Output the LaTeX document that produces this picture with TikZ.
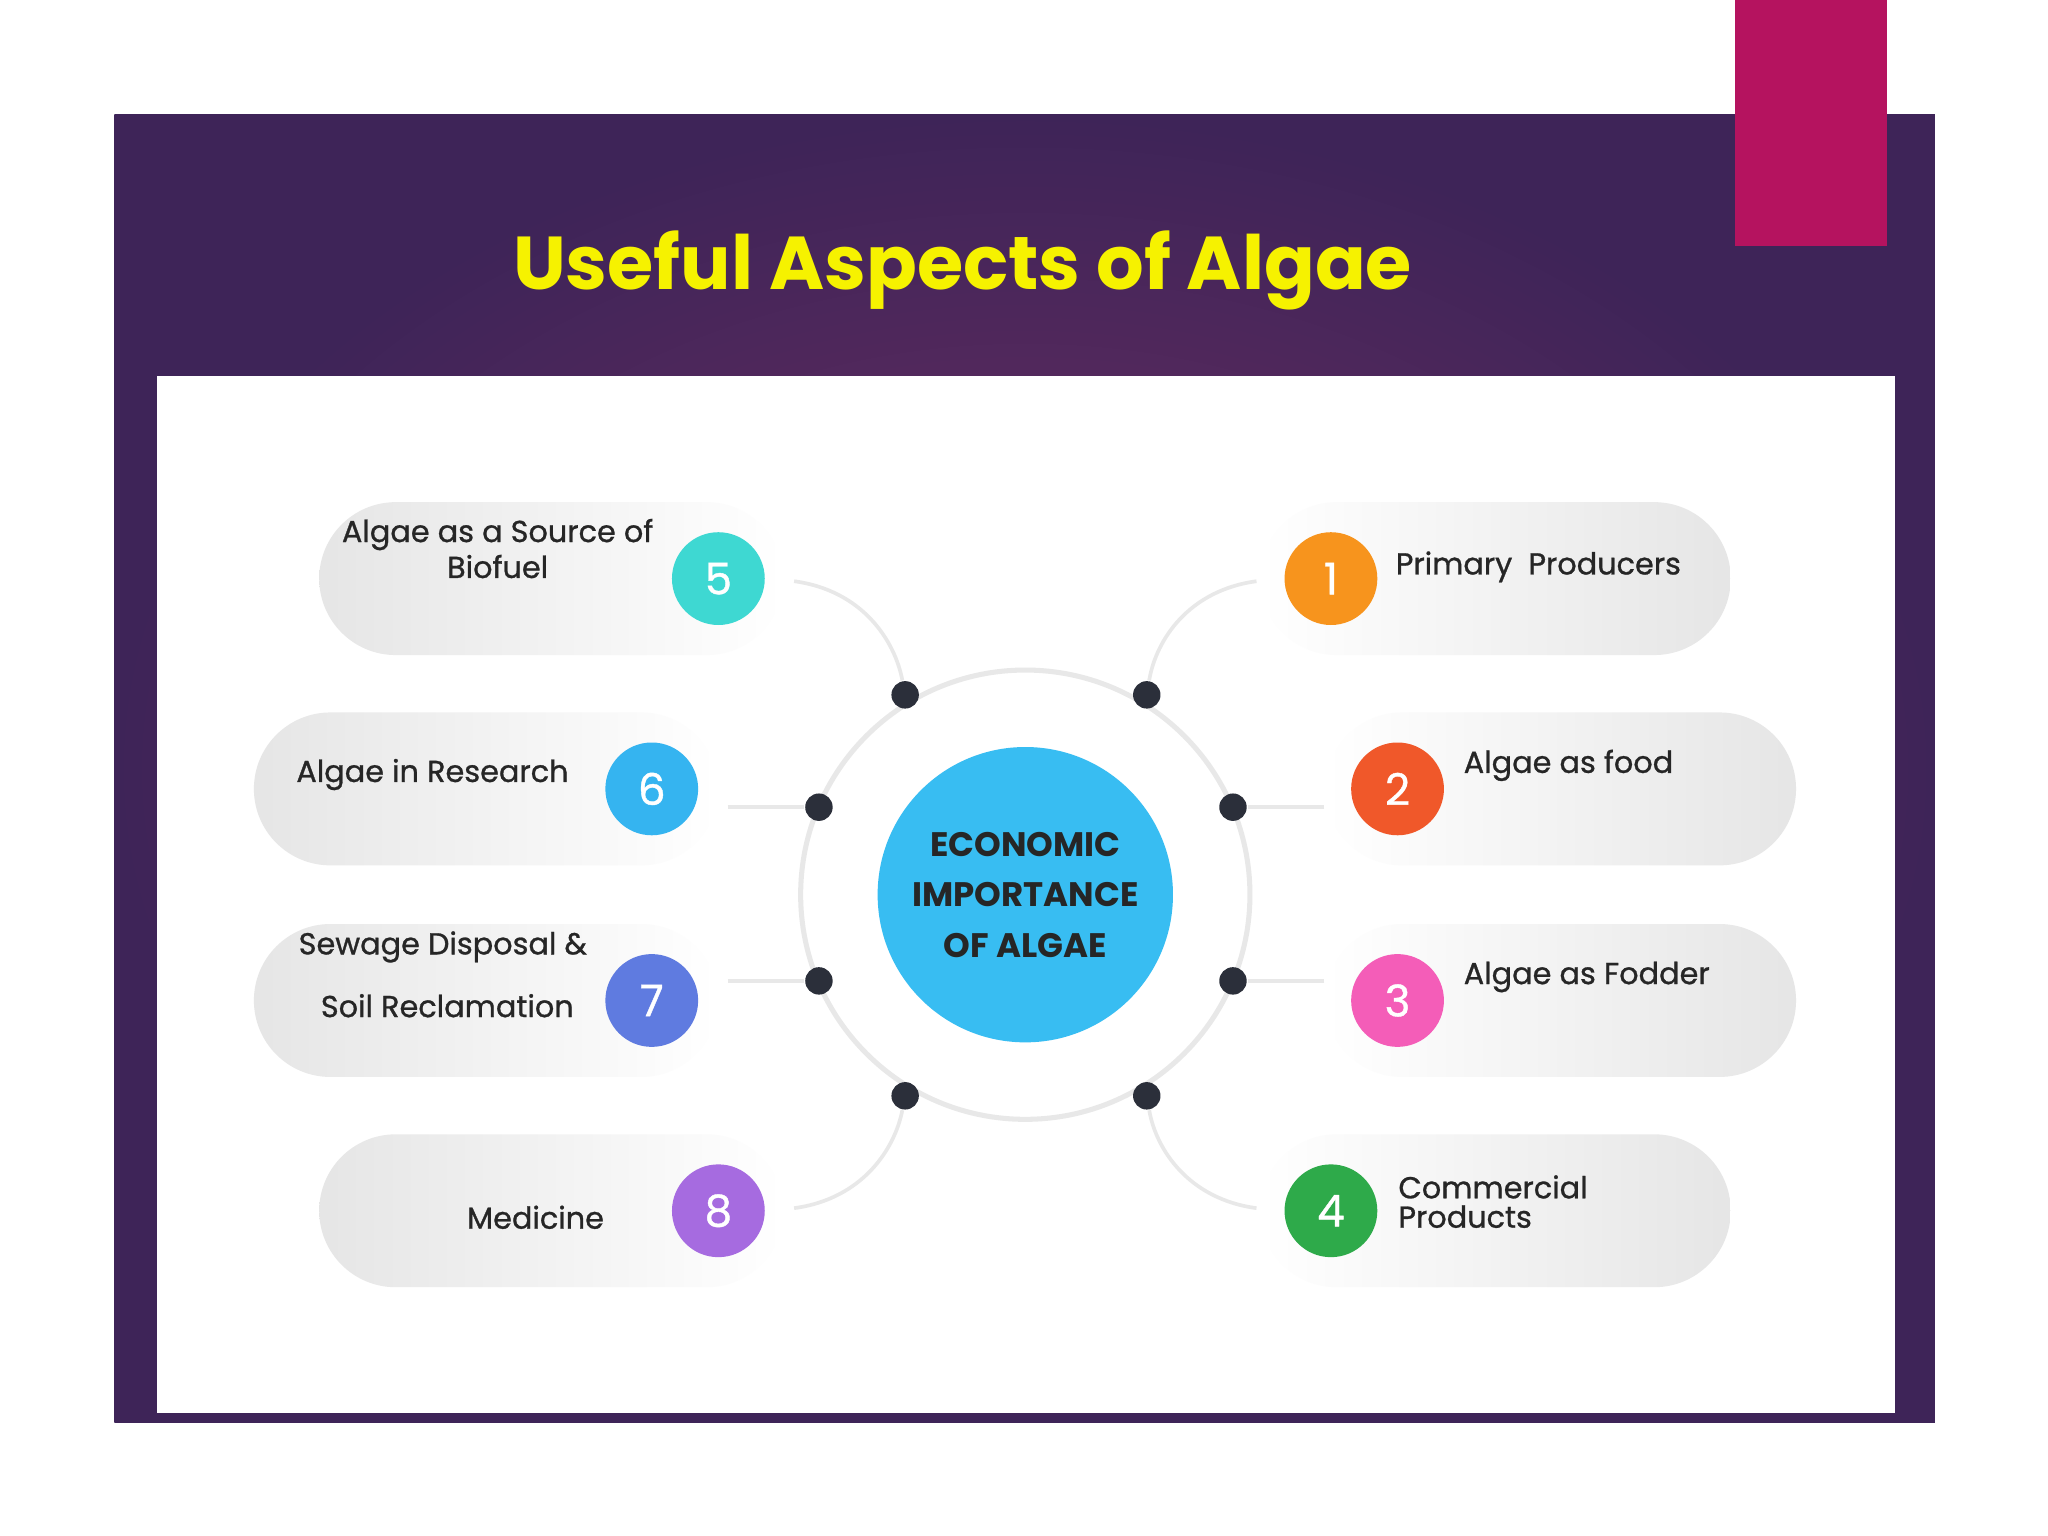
\documentclass[tikz,border=0pt]{standalone}
\usepackage{fontspec}
\setmainfont{Poppins}
\newfontfamily\medfont[FakeBold=0.9]{Poppins}
\definecolor{tyel}{HTML}{F6F200}
\definecolor{mag}{HTML}{B5135F}
\definecolor{dotc}{HTML}{2B2F3A}
\definecolor{ringc}{HTML}{E8E8E8}
\definecolor{c1}{HTML}{F7941D}\definecolor{c2}{HTML}{F0582A}
\definecolor{c3}{HTML}{F45DB8}\definecolor{c4}{HTML}{2EAA4A}
\definecolor{c5}{HTML}{3ED8D2}\definecolor{c6}{HTML}{35B4F0}
\definecolor{c7}{HTML}{5F7BE0}\definecolor{c8}{HTML}{A66BE0}
\definecolor{cen}{HTML}{38BDF2}
\begin{document}
\begin{tikzpicture}[x=0.01cm,y=-0.01cm,
 lpill/.style={rectangle,rounded corners=5.85mm,minimum width=35.5mm,minimum height=11.7mm,left color=black!10,right color=white,draw=none},
 rpill/.style={rectangle,rounded corners=5.85mm,minimum width=36mm,minimum height=11.7mm,right color=black!10,left color=white,draw=none},
 num/.style={circle,minimum size=7.1mm,inner sep=0pt,text=white,font=\fontsize{9.5}{10}\selectfont\medfont},
 dot/.style={circle,fill=dotc,minimum size=2.1mm,inner sep=0pt},
 lab/.style={font=\fontsize{6.6}{8}\selectfont\medfont,text=black!85,inner sep=0pt},
 conn/.style={draw=ringc,line width=0.8pt}]
\useasboundingbox (0,0) rectangle (1568,1176);
\fill[white] (0,0) rectangle (1568,1176);
\node[inner sep=0pt,minimum width=13.93cm,minimum height=10.01cm,inner color={rgb,255:red,112;green,46;blue,98},outer color={rgb,255:red,62;green,36;blue,88}] (bg) at (784.5,588.5) {};
\fill[mag] (1328,0) rectangle (1445,188);
\node[font=\fontsize{16.3}{20}\selectfont\bfseries,text=tyel] (title) at (737,207) {Useful Aspects of Algae};
\fill[white] (120,288) rectangle (1451,1082);
% ring
\draw[ringc,line width=1.1pt] (785,685) circle[radius=172];
% pills
\node[lpill] (p5) at (422,443) {};
\node[lpill] (p6) at (372,604) {};
\node[lpill] (p7) at (372,766) {};
\node[lpill] (p8) at (422,927) {};
\node[rpill] (p1) at (1145,443) {};
\node[rpill] (p2) at (1195,604) {};
\node[rpill] (p3) at (1195,766) {};
\node[rpill] (p4) at (1145,927) {};
% numbers
\node[num,fill=c5] (n5) at (550,443) {5};
\node[num,fill=c6] (n6) at (499,604) {6};
\node[num,fill=c7] (n7) at (499,766) {7};
\node[num,fill=c8] (n8) at (550,927) {8};
\node[num,fill=c1] (n1) at (1019,443) {1};
\node[num,fill=c2] (n2) at (1070,604) {2};
\node[num,fill=c3] (n3) at (1070,766) {3};
\node[num,fill=c4] (n4) at (1019,927) {4};
% center
\node[circle,fill=cen,minimum size=22.6mm,inner sep=0pt,align=center,font=\fontsize{7.4}{11}\selectfont\bfseries,text=black!85] (c) at (785,685) {ECONOMIC\\IMPORTANCE\\OF ALGAE};
% dots
\node[dot] (d5) at (693,532) {};\node[dot] (d1) at (878,532) {};
\node[dot] (d6) at (627,618) {};\node[dot] (d2) at (944,618) {};
\node[dot] (d7) at (627,751) {};\node[dot] (d3) at (944,751) {};
\node[dot] (d8) at (693,839) {};\node[dot] (d4) at (878,839) {};
\coordinate (e5) at (608,445);\coordinate (e1) at (962,445);
\coordinate (e6) at (557,618);\coordinate (e2) at (1014,618);
\coordinate (e7) at (557,751);\coordinate (e3) at (1014,751);
\coordinate (e8) at (608,925);\coordinate (e4) at (962,925);
\draw[conn] (e5) .. controls (660,452) and (685,490) .. (d5);
\draw[conn] (e1) .. controls (910,452) and (885,490) .. (d1);
\draw[conn] (e8) .. controls (660,918) and (685,880) .. (d8);
\draw[conn] (e4) .. controls (910,918) and (885,880) .. (d4);
\draw[conn] (e6) -- (d6); \draw[conn] (e2) -- (d2);
\draw[conn] (e7) -- (d7); \draw[conn] (e3) -- (d3);
% labels
\node[lab,align=center,font=\fontsize{6.6}{6.4}\selectfont\medfont] (t5) at (381,420) {Algae as a Source of\\Biofuel};
\node[lab,anchor=east] (t6) at (436,593) {Algae in Research};
\node[lab,anchor=west] (t7a) at (228,725) {Sewage Disposal \&};
\node[lab,anchor=west] (t7b) at (245,770) {Soil Reclamation};
\node[lab] (t8) at (410,932) {Medicine};
\node[lab,anchor=west] (t1) at (1068,434) {Primary\ \ Producers};
\node[lab,anchor=west] (t2) at (1120,586) {Algae as food};
\node[lab,anchor=west] (t3) at (1120,748) {Algae as Fodder};
\node[lab,anchor=west,align=left,font=\fontsize{6.6}{6.4}\selectfont\medfont] (t4) at (1070,920) {Commercial\\Products};
\end{tikzpicture}
\end{document}
